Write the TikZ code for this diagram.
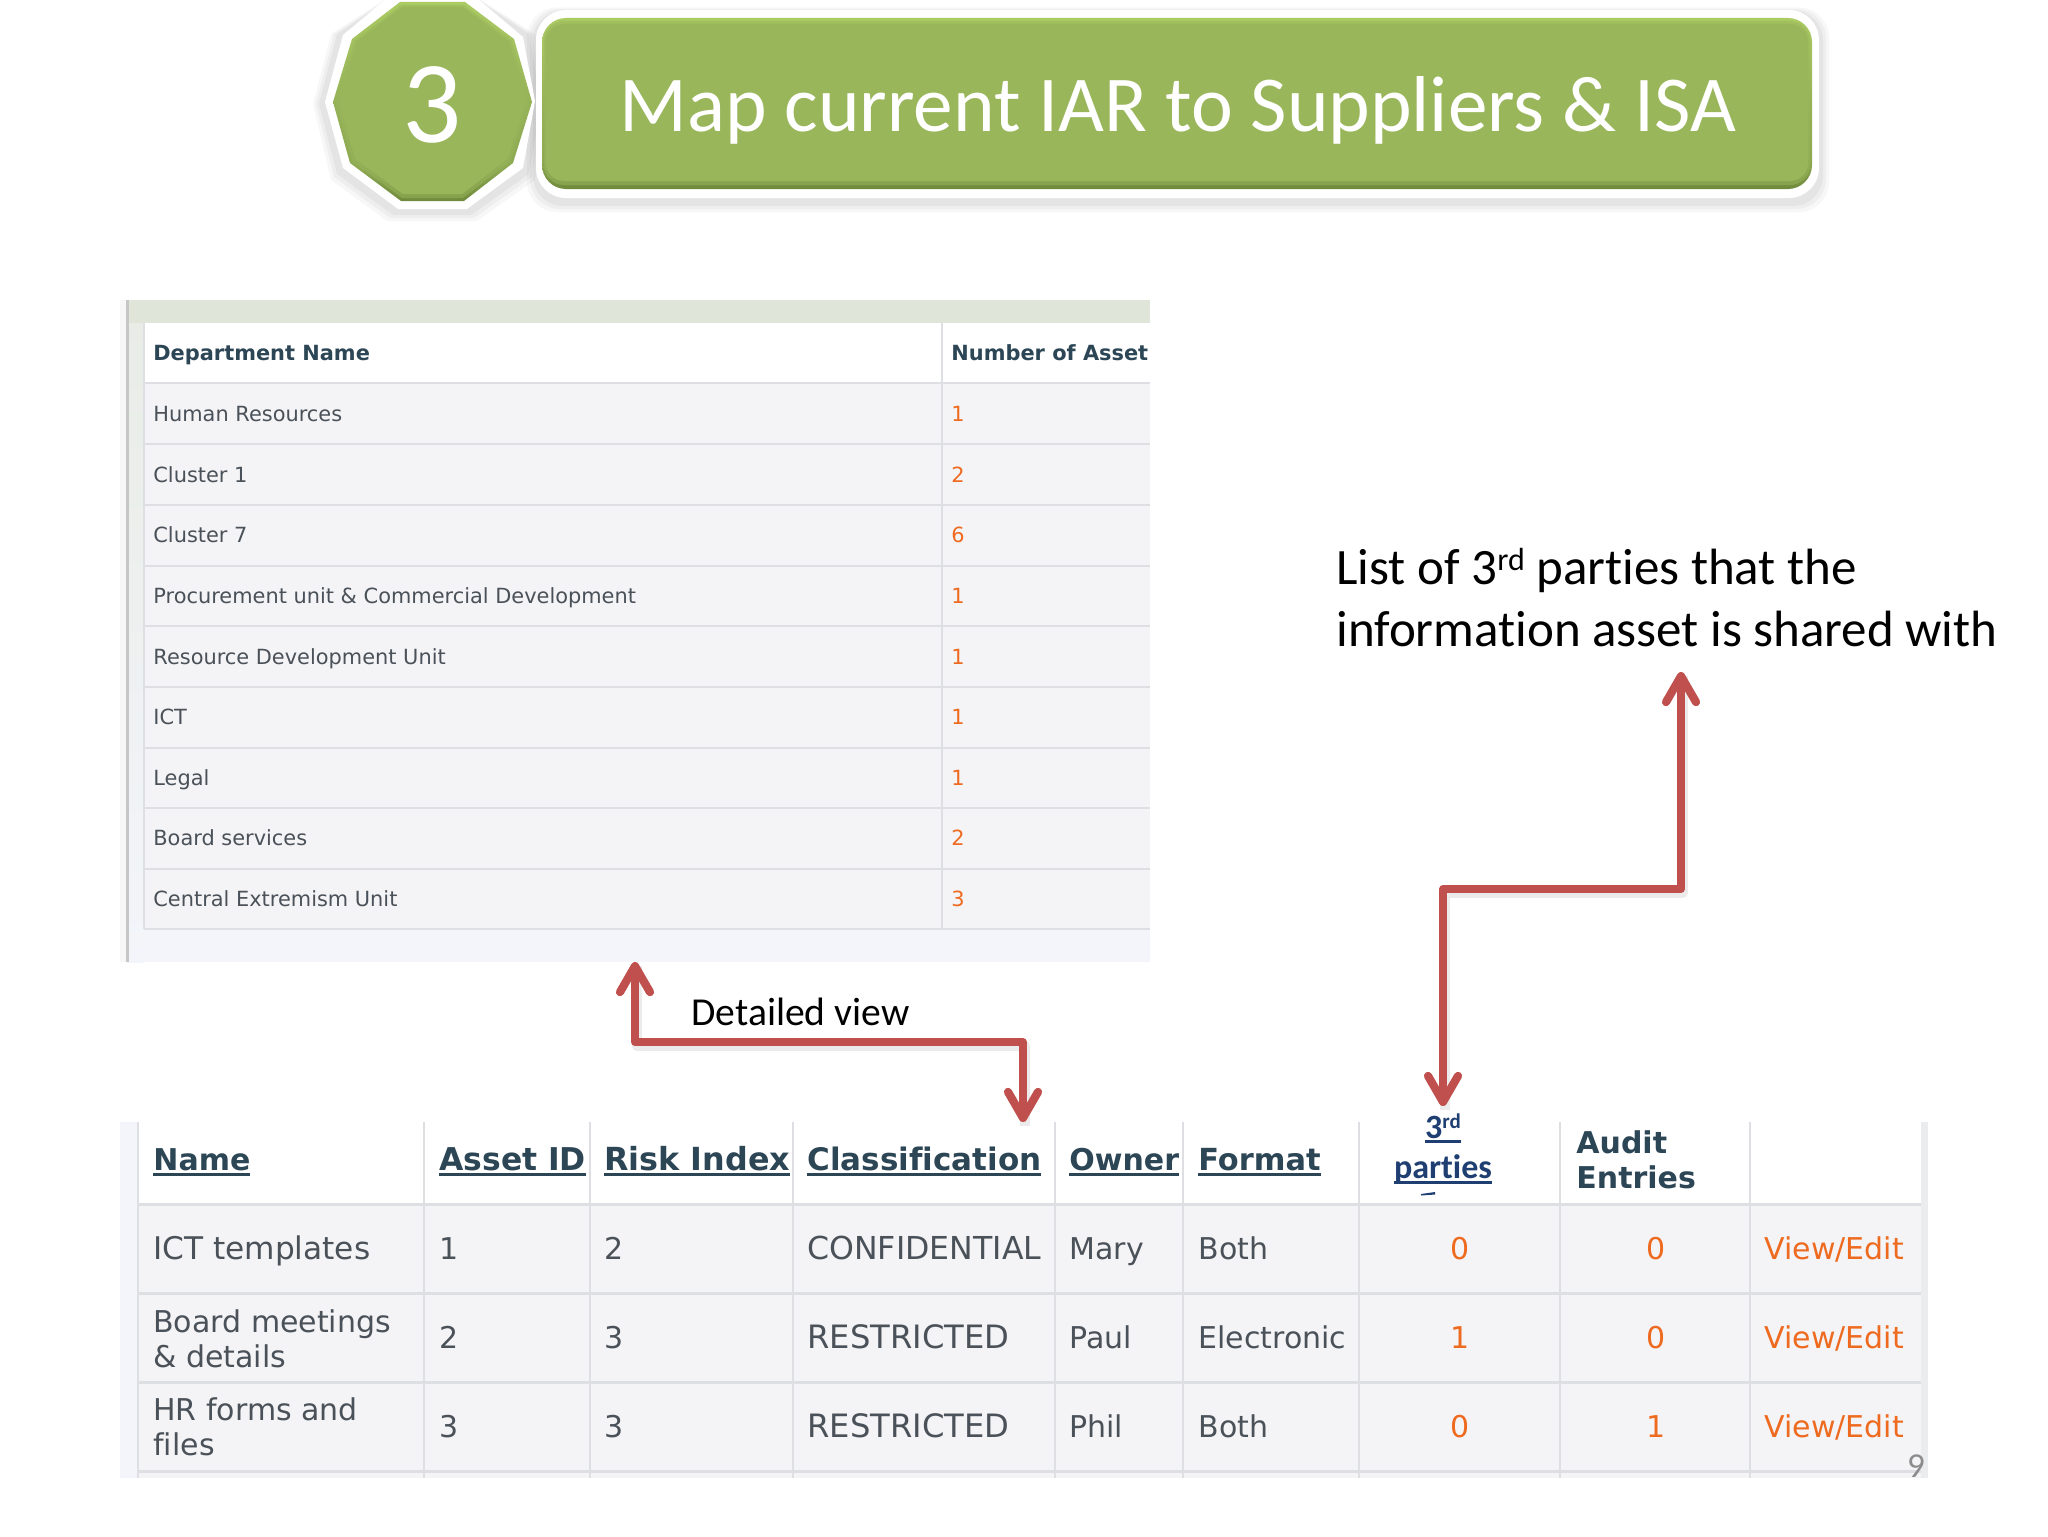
\documentclass[tikz,border=0pt]{standalone}
\usepackage{fontspec}
\setmainfont{Carlito}[Ligatures=NoCommon]
\newfontfamily\webfont{DejaVu Sans}[Ligatures=NoCommon]
\usetikzlibrary{arrows.meta}
\definecolor{officegreen}{HTML}{9AB65B}
\definecolor{lightgreen}{HTML}{ABCB63}
\definecolor{darkgreen}{HTML}{6F8A3B}
\definecolor{arrowred}{HTML}{C0504D}
\definecolor{rowbg}{HTML}{F4F4F6}
\definecolor{gridline}{HTML}{DEDFE3}
\definecolor{headtxt}{HTML}{2C4656}
\definecolor{celltxt}{HTML}{4A5159}
\definecolor{orangetxt}{HTML}{EE6A1F}
\definecolor{linktxt}{HTML}{1F3F72}
\definecolor{panelgreen}{HTML}{DFE6D9}
\definecolor{panelbg}{HTML}{F3F5FA}
\pgfdeclareverticalshading{tileshade}{100bp}{color(0bp)=(darkgreen);color(25bp)=(darkgreen);color(33bp)=(officegreen!70!darkgreen);color(50bp)=(officegreen!92!darkgreen);color(75bp)=(lightgreen);color(100bp)=(lightgreen)}
\newcommand\ulin[2][2.75pt]{\setbox0\hbox{#2}\rlap{\copy0}\rule[-#1]{\wd0}{1.4pt}}
\newcommand\sz[2]{\fontsize{#1}{17.5}\selectfont #2}
\newcommand\decagon[3]{% scale, cx, cy offset helper
  ({#2+#1*(400-432)},{#3+#1*(2-102)})--({#2+#1*(465-432)},{#3+#1*(2-102)})--({#2+#1*(514-432)},{#3+#1*(39-102)})--({#2+#1*(532-432)},{#3})--({#2+#1*(513-432)},{#3+#1*(163-102)})--({#2+#1*(464-432)},{#3+#1*(201-102)})--({#2+#1*(401-432)},{#3+#1*(201-102)})--({#2+#1*(350-432)},{#3+#1*(163-102)})--({#2+#1*(333-432)},{#3})--({#2+#1*(352-432)},{#3+#1*(39-102)})--cycle}
\tikzset{
  x=0.5pt,y=-0.5pt,
  t1/.style={inner sep=0pt,anchor=base west,font=\webfont\fontsize{10.45}{14}\selectfont,text=celltxt},
  t1h/.style={t1,font=\webfont\bfseries\fontsize{10.45}{14}\selectfont,text=headtxt},
  t1n/.style={t1,text=orangetxt},
  t2/.style={inner sep=0pt,anchor=base west,font=\webfont\fontsize{15}{17.5}\selectfont,text=celltxt},
  t2m/.style={t2,anchor=west,align=left},
  t2h/.style={t2,font=\webfont\bfseries\fontsize{15}{17.5}\selectfont,text=headtxt},
  t2o/.style={t2,anchor=base,text=orangetxt},
  grid/.style={draw=gridline,line width=1.1pt},
  link/.style={draw=arrowred,line width=4.1pt,line join=round,{Straight Barb[length=13pt,width=15pt,round]}-{Straight Barb[length=13pt,width=15pt,round]}},
  linkshadow/.style={draw=black,opacity=.08,line width=5pt,line join=round},
  note/.style={inner sep=0pt,anchor=base west,font=\fontsize{25.5}{31}\selectfont,text=black}
}
\begin{document}
\begin{tikzpicture}
\useasboundingbox (0,0) rectangle (2048,1536);
\fill[white] (0,0) rectangle (2048,1536);
% tiles: soft shadows
\foreach \o/\g in {.03/9,.035/6,.04/3}{
  \fill[black,opacity=\o,rounded corners=15pt] (536-\g,12-\g/2) rectangle (1820+\g,203+\g);
  \fill[black,opacity=\o] ({432+1.06*(400-432)-\g/2},-6)--({432+1.06*(465-432)+\g/2},-6)--(526+\g,34)--(538+\g,104)--(526+\g,171+\g)--(468+\g,212+\g)--(396-\g,212+\g)--(340-\g,171+\g)--(322-\g,104)--(340-\g,34)--cycle;
}
\fill[white,rounded corners=15pt] (536,10) rectangle (1819,198);
\path[shading=tileshade,rounded corners=12pt] (542,18) rectangle (1812,189);
\fill[officegreen,opacity=.5,rounded corners=10pt] (544,21) rectangle (1810,185);
\fill[officegreen,rounded corners=9pt] (546,24) rectangle (1808,181);
\fill[white] (392,-6)--(472,-6)--(523,37)--(535,101)--(523,168)--(467,209)--(398,209)--(343,168)--(325,102)--(343,35)--cycle;
\path[shading=tileshade] \decagon{1}{432}{102};
\fill[officegreen,opacity=.5] \decagon{.97}{432}{102};
\fill[officegreen] \decagon{.94}{432}{101};
\node[inner sep=0pt,text=white,font=\fontsize{58.5}{70}\selectfont] (num) at (432,105) {3};
\node[inner sep=0pt,anchor=base west,text=white,font=\fontsize{39.6}{47}\selectfont] (title) at (619,132) {Map current IAR to Suppliers \& ISA};
% department panel
\fill[panelbg] (127,300) rectangle (1150,962);
\fill[panelgreen] (127,300) rectangle (1150,323);
\shade[top color=rowbg!45!panelgreen,bottom color=panelbg] (127,323) rectangle (144,962);
\fill[black!3] (120,300) rectangle (127,962);
\fill[gray!45] (126,300) rectangle (128.5,962);
\fill[white] (144,323) rectangle (1150,383);
\fill[rowbg] (144,383) rectangle (1150,929);
\foreach \yy in {383,444,505,566,626,687,748,808,869,929}
  \draw[grid] (144,\yy) -- (1150,\yy);
\draw[grid,line width=.6pt] (144,323) -- (144,929);
\draw[grid,line width=.6pt] (942,323) -- (942,929);
\node[t1h] (dh) at (153,360.5) {Department Name};
\begin{scope}
\clip (930,323) rectangle (1150,383);
\node[t1h] (nh) at (951,360.5) {Number of Asset};
\end{scope}
\foreach \i/\yy/\nm/\val in {
  1/421.5/Human Resources/1,2/482/Cluster 1/2,3/542.5/Cluster 7/6,
  4/603.5/Procurement unit \& Commercial Development/1,
  5/664/Resource Development Unit/1,6/724.5/ICT/1,7/785/Legal/1,
  8/845.5/Board services/2,9/906/Central Extremism Unit/3}{
  \node[t1] (dn\i) at (153,\yy) {\nm};
  \node[t1n] (dv\i) at (951,\yy) {\val};
}
% assets table
\fill[panelbg] (120,1122) rectangle (138,1478);
\fill[white] (138,1122) rectangle (1921,1204);
\fill[rowbg] (138,1204) rectangle (1921,1478);
\fill[gridline!60!white] (1921,1122) rectangle (1928,1478);
\foreach \yy in {1204,1293,1382,1471}
  \draw[grid,line width=1.5pt] (138,\yy) -- (1921,\yy);
\foreach \xx in {138,424,590,793,1055,1183,1359,1560,1750}
  \draw[grid] (\xx,1122) -- (\xx,1478);
\node[t2h] (h1) at (153,1170) {\ulin{Name}};
\node[t2h] (h2) at (439,1170) {\sz{15.7}{\ulin{Asset ID}}};
\node[t2h] (h3) at (604,1170) {\sz{15.9}{\ulin{Risk Index}}};
\node[t2h] (h4) at (807,1170) {\sz{15.5}{\ulin{Classification}}};
\node[t2h] (h5) at (1069,1170) {\ulin{Owner}};
\node[t2h] (h6) at (1198,1170) {\sz{15.2}{\ulin{Format}}};
\node[inner sep=0pt,anchor=base,text=linktxt,font=\bfseries\fontsize{17}{20}\selectfont] (h7a) at (1443,1138) {\ulin[2.5pt]{3\raisebox{5pt}{\fontsize{10.5}{13}\selectfont rd}}};
\node[inner sep=0pt,anchor=base,text=linktxt,font=\bfseries\fontsize{17}{20}\selectfont] (h7b) at (1443,1178) {\ulin[3pt]{parties}};
\fill[linktxt] (1421,1194) -- (1435,1192) -- (1435,1194.5) -- (1421,1195.5) -- cycle;
\node[t2h] (h8a) at (1576,1153) {Audit};
\node[t2h] (h8b) at (1576,1188) {Entries};
% rows
\node[t2] (r1a) at (153,1259) {\sz{15.6}{ICT templates}};
\node[t2m] (r2a) at (153,1339) {Board meetings\\\& details};
\node[t2m] (r3a) at (153,1427) {HR forms and\\files};
\foreach \i/\yy/\id/\risk/\cs/\cls/\own/\fmt/\tp/\au in {
  1/1259/1/2/15.8/CONFIDENTIAL/Mary/Both/0/0,
  2/1348/2/3/16.1/RESTRICTED/Paul/Electronic/1/0,
  3/1437/3/3/16.1/RESTRICTED/Phil/Both/0/1}{
  \node[t2] (r\i b) at (439,\yy) {\id};
  \node[t2] (r\i c) at (604,\yy) {\risk};
  \node[t2] (r\i d) at (807,\yy) {\sz{\cs}{\cls}};
  \node[t2] (r\i e) at (1069,\yy) {\own};
  \node[t2] (r\i f) at (1198,\yy) {\fmt};
  \node[t2o] (r\i g) at (1460,\yy) {\tp};
  \node[t2o] (r\i h) at (1656,\yy) {\au};
  \node[t2,text=orangetxt] (r\i i) at (1764,\yy) {View/Edit};
}
\node[inner sep=0pt,anchor=base,text=gray!90,font=\fontsize{17.5}{20}\selectfont] (page) at (1916,1477) {9};
% notes
\node[note,font=\fontsize{19.8}{24}\selectfont] (detail) at (691,1025) {Detailed view};
\node[note] (list1) at (1336,584) {List of 3\raisebox{7pt}{\fontsize{16}{18}\selectfont rd} parties that the};
\node[note] (list2) at (1336,646) {information asset is shared with};
% connectors
\coordinate (a1) at (635,962);
\coordinate (a2) at (1023,1122);
\coordinate (b1) at (1681,672);
\coordinate (b2) at (1443,1106);
\draw[linkshadow] ([xshift=1pt,yshift=-2pt]a1) |- ([xshift=1pt,yshift=-2pt]a2|-0,1042) -- ([xshift=1pt,yshift=-2pt]a2);
\draw[linkshadow] ([xshift=1pt,yshift=-2pt]b1) |- ([xshift=1pt,yshift=-2pt]b2|-0,889) -- ([xshift=1pt,yshift=-2pt]b2);
\draw[link] (a1) -- (a1|-0,1042) -- (a2|-0,1042) -- (a2);
\draw[link] (b1) -- (b1|-0,889) -- (b2|-0,889) -- (b2);
\end{tikzpicture}
\end{document}
